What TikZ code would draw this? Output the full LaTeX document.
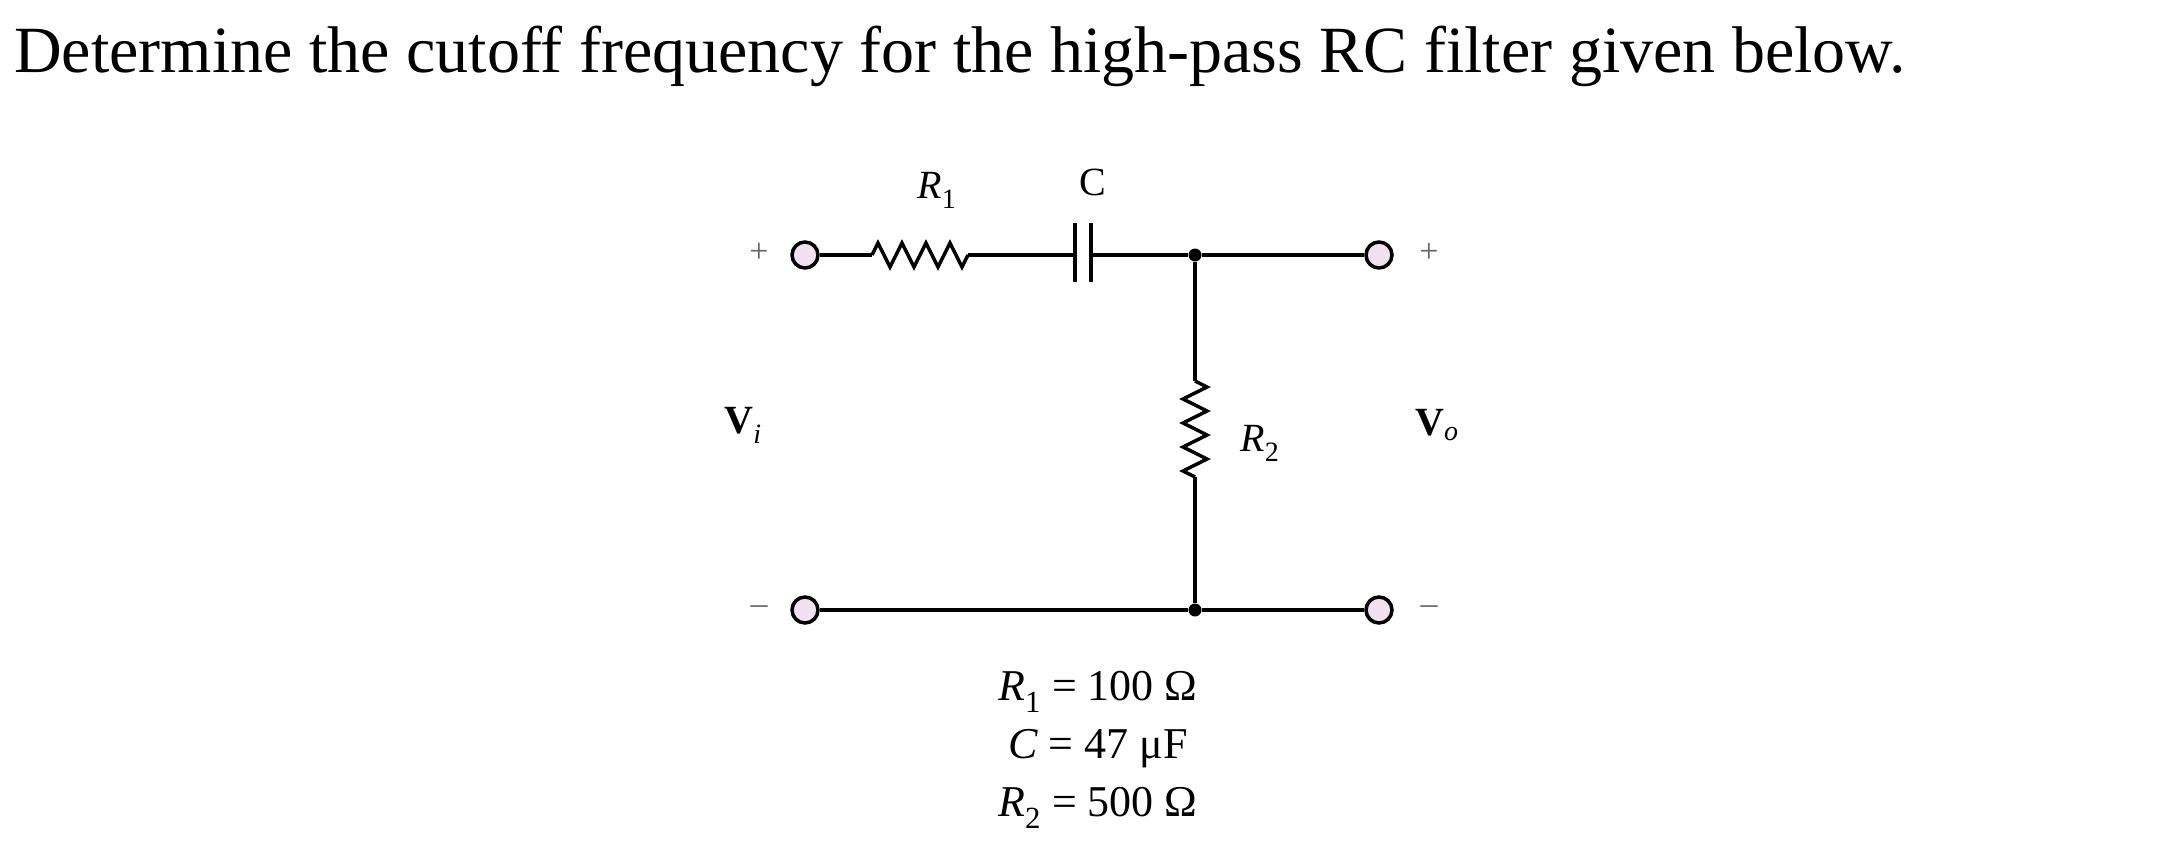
\documentclass[tikz,border=0pt]{standalone}
\usepackage{fontspec}
\setmainfont{Liberation Serif}
\usetikzlibrary{decorations.pathmorphing}
\newcommand{\sym}[2]{\textit{#1}\textsubscript{#2}}
\begin{document}
\begin{tikzpicture}[x=1pt,y=-1pt,
  wire/.style={line width=3.5pt},
  term/.style={circle,draw,line width=3.5pt,fill=violet!12,minimum size=26pt,inner sep=0pt},
  dot/.style={circle,fill=black,minimum size=13pt,inner sep=0pt},
  res/.style={line width=3.5pt,decorate,decoration={zigzag,segment length=24pt,amplitude=12pt}},
  lbl/.style={font=\fontsize{40}{44}\selectfont,inner sep=0pt},
  sgn/.style={font=\fontsize{34}{38}\selectfont\color{black!60},inner sep=0pt}]
\useasboundingbox (0,0) rectangle (2184,856);
\node[anchor=west,inner sep=0pt,font=\fontsize{66}{70}\selectfont] (title) at (14,56) {Determine the cutoff frequency for the high-pass RC filter given below.};
% nodes
\node[term] (ti) at (805,255) {};
\node[term] (to) at (1379,255) {};
\node[term] (bi) at (805,610) {};
\node[term] (bo) at (1379,610) {};
\node[dot] (jt) at (1195,255) {};
\node[dot] (jb) at (1195,610) {};
\coordinate (r1a) at (872,255); \coordinate (r1b) at (968,255);
\coordinate (c1) at (1075,255); \coordinate (c2) at (1091,255);
\coordinate (r2a) at (1195,381); \coordinate (r2b) at (1195,477);
% wiring
\draw[wire] (ti) -- (r1a);
\draw[res] (r1a) -- (r1b);
\draw[wire] (r1b) -- (c1);
\draw[wire] (1075,223) -- (1075,282) (1091,223) -- (1091,282);
\draw[wire] (c2) -- (jt) -- (to);
\draw[wire] (jt) -- (r2a);
\draw[res] (r2a) -- (r2b);
\draw[wire] (r2b) -- (jb);
\draw[wire] (bi) -- (jb) -- (bo);
% labels
\node[lbl] (lr1) at (937,190) {\sym{R}{1}};
\node[lbl] (lc) at (1093,182) {C};
\node[lbl] (lr2) at (1260,443) {\sym{R}{2}};
\node[lbl] (lvi) at (743,425) {\textbf{V}\textsubscript{\textit{i}}};
\node[lbl] (lvo) at (1437,425) {\textbf{V}\textsubscript{\textit{o}}};
\node[sgn] (p1) at (759,253) {+};
\node[sgn] (p2) at (1429,253) {+};
\node[sgn] (m1) at (759,610) {–};
\node[sgn] (m2) at (1429,610) {–};
\node[lbl,align=center,font=\fontsize{44}{58}\selectfont] (vals) at (1098,750)
  {\sym{R}{1} = 100 Ω\\\textit{C} = 47 μF\\\sym{R}{2} = 500 Ω};
\end{tikzpicture}
\end{document}
